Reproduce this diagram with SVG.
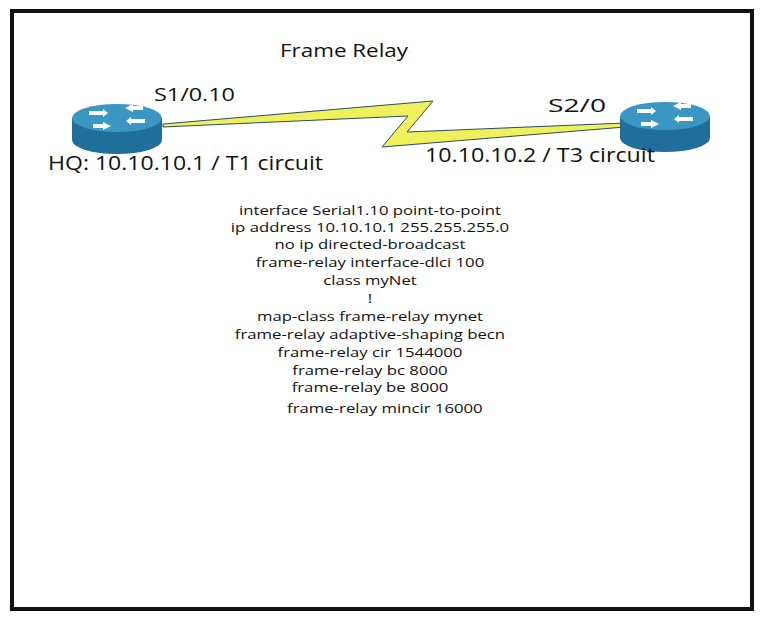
<svg xmlns="http://www.w3.org/2000/svg" width="763" height="619" viewBox="0 0 763 619">
<style>
text{font-family:"Open Sans","Liberation Sans",Arial,sans-serif;fill:#111}
.l{font-size:19px}
.b{font-size:20px}
.c{font-size:13.5px;text-anchor:middle}
.arr{fill:#fff}
</style>
<defs>
<g id="router">
<path d="M-45,0 v22 a45,14 0 0 0 90,0 v-22 z" fill="#1f6f9a"/>
<ellipse cx="0" cy="0" rx="45" ry="14" fill="#3a97c4"/>
<g class="arr">
<path d="M-28,-7 h14 v-2 l5,4 l-5,4 v-2 h-14 z"/>
<path d="M28,5 h-14 v2 l-5,-4 l5,-4 v2 h14 z"/>
<path d="M8,-10 l8,-4 v2 h10 v4 h-10 v2 z"/>
<path d="M-6,8 l-8,4 v-2 h-10 v-4 h10 v-2 z"/>
</g>
</g>
</defs>
<rect x="12" y="11" width="740" height="598" fill="#fff" stroke="#111" stroke-width="4"/>
<text x="280" y="57" class="l" textLength="128" lengthAdjust="spacingAndGlyphs">Frame Relay</text>
<g id="connectors">
<polygon points="163,124 433,101 407,132 625,123 625,127 382,147 408,116 163,127" fill="#eef15a" stroke="#2c4a6a" stroke-width="1"/>
</g>
<g id="hq"><use href="#router" x="117" y="118"/></g>
<g id="branch"><use href="#router" x="665" y="116"/></g>
<text x="154" y="101" class="l" textLength="81" lengthAdjust="spacingAndGlyphs">S1/0.10</text>
<text x="548" y="112" class="l" textLength="58" lengthAdjust="spacingAndGlyphs">S2/0</text>
<text x="48" y="170" class="b" textLength="275" lengthAdjust="spacingAndGlyphs">HQ: 10.10.10.1 / T1 circuit</text>
<text x="425" y="162" class="b" textLength="230" lengthAdjust="spacingAndGlyphs">10.10.10.2 / T3 circuit</text>
<g id="config" transform="translate(370,0) scale(1.24,1) translate(-370,0)">
<text x="370" y="215" class="c">interface Serial1.10 point-to-point</text>
<text x="370" y="232" class="c">ip address 10.10.10.1 255.255.255.0</text>
<text x="370" y="249" class="c">no ip directed-broadcast</text>
<text x="370" y="267" class="c">frame-relay interface-dlci 100</text>
<text x="370" y="285" class="c">class myNet</text>
<text x="370" y="303" class="c">!</text>
<text x="370" y="321" class="c">map-class frame-relay mynet</text>
<text x="370" y="339" class="c">frame-relay adaptive-shaping becn</text>
<text x="370" y="357" class="c">frame-relay cir 1544000</text>
<text x="370" y="375" class="c">frame-relay bc 8000</text>
<text x="370" y="392" class="c">frame-relay be 8000</text>
<text x="382" y="413" class="c">frame-relay mincir 16000</text>
</g>
</svg>
